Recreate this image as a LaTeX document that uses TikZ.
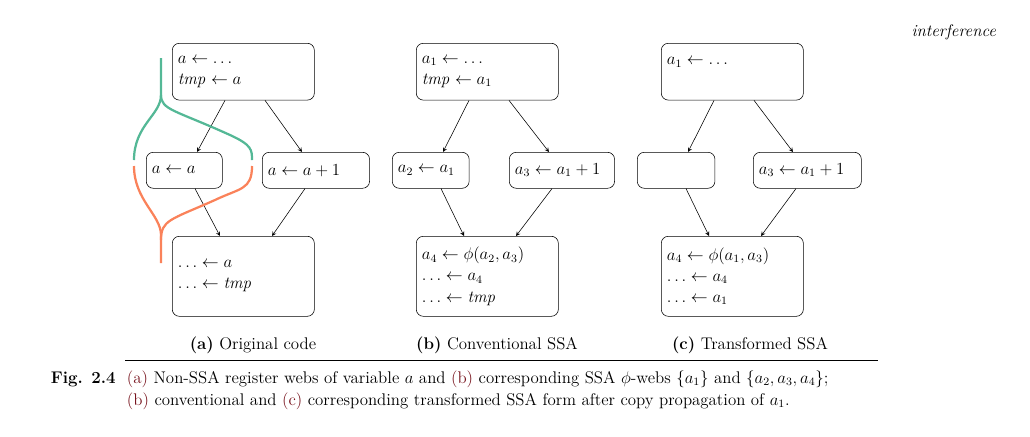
\documentclass[tikz,border=0pt]{standalone}
\usepackage{tikz}
\usetikzlibrary{positioning}
\definecolor{webgreen}{RGB}{84,184,150}
\definecolor{weborange}{RGB}{250,130,90}
\definecolor{refred}{RGB}{120,20,30}
\tikzstyle{block} = [draw=black, rounded corners=5pt, align=left, inner sep=4pt, anchor=north west, text width=#1]
\tikzstyle{arrow} = [->, >=stealth, thin]
\tikzstyle{web} = [line width=1.6pt]
\begin{document}
\begin{tikzpicture}[x=0.025cm, y=-0.025cm, font=\fontsize{12}{15}\selectfont]
\useasboundingbox (0,0) rectangle (1030,436);

% (a) original code
\node (a-top) [block=3.27cm, minimum height=1.42cm] at (172,43) {$a\leftarrow\dots$\\$\mathit{tmp}\leftarrow a$};
\node (a-left) [block=1.62cm, minimum height=0.9cm] at (146,152) {$a\leftarrow a$};
\node (a-right) [block=2.4cm, minimum height=0.9cm] at (262,152) {$a\leftarrow a+1$};
\node (a-bot) [block=3.27cm, minimum height=2cm] at (172,236) {$\dots\leftarrow a$\\$\dots\leftarrow\mathit{tmp}$};

% (b) conventional SSA
\node (b-top) [block=3.27cm, minimum height=1.42cm] at (416,43) {$a_1\leftarrow\dots$\\$\mathit{tmp}\leftarrow a_1$};
\node (b-left) [block=1.64cm, minimum height=0.9cm] at (392,152) {$a_2\leftarrow a_1$};
\node (b-right) [block=2.35cm, minimum height=0.9cm] at (509,152) {$a_3\leftarrow a_1+1$};
\node (b-bot) [block=3.27cm, minimum height=2cm] at (416,236) {$a_4\leftarrow\phi(a_2,a_3)$\\$\dots\leftarrow a_4$\\$\dots\leftarrow\mathit{tmp}$};

% (c) transformed SSA
\node (c-top) [block=3.27cm, minimum height=1.42cm] at (661,43) {$a_1\leftarrow\dots$\\\mbox{}};
\node (c-left) [block=1.66cm, minimum height=0.9cm] at (637,152) {};
\node (c-right) [block=2.42cm, minimum height=0.9cm] at (753,152) {$a_3\leftarrow a_1+1$};
\node (c-bot) [block=3.27cm, minimum height=2cm] at (661,236) {$a_4\leftarrow\phi(a_1,a_3)$\\$\dots\leftarrow a_4$\\$\dots\leftarrow a_1$};

% Arrows
\foreach \p in {a,b,c} {
  \draw [arrow] ([shift={(53,0)}]\p-top.south west) -- ([shift={(51,0)}]\p-left.north west);
  \draw [arrow] ([shift={(93,0)}]\p-top.south west) -- ([shift={(40,0)}]\p-right.north west);
  \draw [arrow] ([shift={(49,0)}]\p-left.south west) -- ([shift={(48,0)}]\p-bot.north west);
  \draw [arrow] ([shift={(43,0)}]\p-right.south west) -- ([shift={(100,0)}]\p-bot.north west);
}

% register webs
\coordinate (g-top) at (161,58);
\coordinate (o-bot) at (161,263);
\draw [web, webgreen] (g-top) -- (161,95) .. controls (161,115) and (134,125) .. (134,160);
\draw [web, webgreen] (161,95) .. controls (161,110) and (175,110) .. (230,135) .. controls (252,145) and (252,150) .. (252,160);
\draw [web, weborange] (134,166) .. controls (134,200) and (161,215) .. (161,235) -- (o-bot);
\draw [web, weborange] (252,166) .. controls (252,190) and (240,188) .. (215,200) .. controls (170,220) and (161,220) .. (161,240);

% labels
\node (cap-a) at (253,345) {\textbf{(a)} Original code};
\node (cap-b) at (497,345) {\textbf{(b)} Conventional SSA};
\node (cap-c) at (750,345) {\textbf{(c)} Transformed SSA};
\node (interf) [anchor=east] at (1001,32) {\textit{interference}};
\draw [thin] (125,360) -- (878,360);
\node (fig) [anchor=west] at (46,379) {\textbf{Fig. 2.4}};
\node (text1) [anchor=west] at (122,379) {{\color{refred}(a)} Non-SSA register webs of variable $a$ and {\color{refred}(b)} corresponding SSA $\phi$-webs $\{a_1\}$ and $\{a_2,a_3,a_4\}$;};
\node (text2) [anchor=west] at (122,401) {{\color{refred}(b)} conventional and {\color{refred}(c)} corresponding transformed SSA form after copy propagation of $a_1$.};
\end{tikzpicture}
\end{document}
